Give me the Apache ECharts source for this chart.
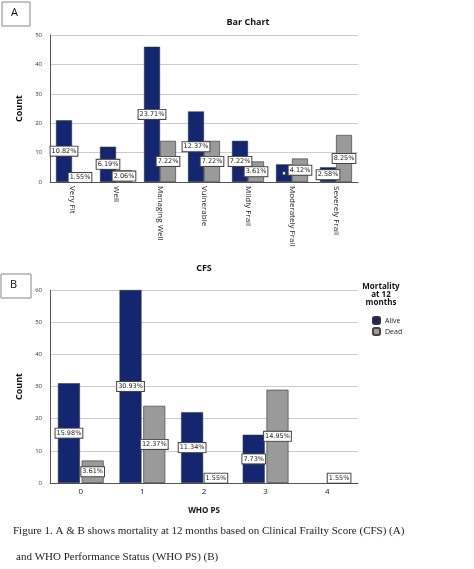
<!DOCTYPE html>
<html><head><meta charset="utf-8">
<script src="https://cdn.jsdelivr.net/npm/echarts@6/dist/echarts.min.js"></script>
<style>html,body{margin:0;padding:0;background:#fff}#c{width:474px;height:569px}</style>
</head><body><div id="c"></div>
<script>
const cfsCats = ['Very Fit','Well','Managing Well','Vulnerable','Mildly Frail','Moderately Frail','Severely Frail'];
const cfsAlive = [21,12,46,24,14,6,5];
const cfsDead = [3,4,14,14,7,8,16];
const cfsAliveLbl = ['10.82%','6.19%','23.71%','12.37%','7.22%',null,'2.58%'];
const cfsDeadLbl = ['1.55%','2.06%','7.22%','7.22%','3.61%','4.12%','8.25%'];
const whoCats = ['0','1','2','3','4'];
const whoAlive = [31,60,22,15,null];
const whoDead = [7,24,3,29,3];
const whoAliveLbl = ['15.98%','30.93%','11.34%','7.73%',null];
const whoDeadLbl = ['3.61%','12.37%','1.55%','14.95%','1.55%'];
const ticksA = [0,10,20,30,40,50];

const NAVY='#13266f', GREY='#9a9a9a';
const lab = arr => ({show:true, position:'inside', fontSize:6.5, color:'#222', backgroundColor:'#fff',
  borderColor:'#444', borderWidth:1, padding:[1,1], fontFamily:'DejaVu Sans',
  formatter:p=>arr[p.dataIndex]||''});
const axisY = (gi,max,interval)=>({gridIndex:gi,min:0,max,interval,name:'Count',nameLocation:'middle',nameGap:22,
  nameTextStyle:{fontSize:9,fontWeight:'bold',color:'#111'},
  axisLine:{show:true,lineStyle:{color:'#555'}},axisTick:{show:false},
  axisLabel:{fontSize:6,color:'#333'},splitLine:{lineStyle:{color:'#ccc'}}});
const chart = echarts.init(document.getElementById('c'));
chart.setOption({
  animation:false,
  textStyle:{fontFamily:'Open Sans'},
  title:{text:'Bar Chart',left:243,top:13,textAlign:'center',textStyle:{fontSize:9,fontWeight:'bold',color:'#111'}},
  grid:[{left:50,width:308,top:35,height:147},{left:50,width:308,top:290,height:193}],
  legend:{show:true,data:['Alive','Dead'],orient:'vertical',left:367,top:311,itemWidth:7,itemHeight:7,itemGap:2,
    textStyle:{fontSize:7,color:'#222'}},
  xAxis:[
    {type:'category',gridIndex:0,data:cfsCats,name:'CFS',nameLocation:'middle',nameGap:82,
     nameTextStyle:{fontSize:9,fontWeight:'bold',color:'#111'},
     axisLine:{lineStyle:{color:'#555'}},axisTick:{show:false},
     axisLabel:{rotate:-90,fontSize:8,color:'#222',margin:4}},
    {type:'category',gridIndex:1,data:whoCats,name:'WHO PS',nameLocation:'middle',nameGap:24,
     nameTextStyle:{fontSize:8,fontWeight:'bold',color:'#111'},
     axisLine:{lineStyle:{color:'#555'}},axisTick:{show:false},
     axisLabel:{fontSize:8,color:'#222',margin:5}}
  ],
  yAxis:[axisY(0,50,10),axisY(1,60,10)],
  series:[
    {name:'Alive',type:'bar',xAxisIndex:0,yAxisIndex:0,data:cfsAlive,barWidth:16,barGap:'0%',
     itemStyle:{color:NAVY,borderColor:'#333',borderWidth:0.5},label:lab(cfsAliveLbl)},
    {name:'Dead',type:'bar',xAxisIndex:0,yAxisIndex:0,data:cfsDead,barWidth:16,barGap:'0%',
     itemStyle:{color:GREY,borderColor:'#444',borderWidth:0.7},label:lab(cfsDeadLbl)},
    {name:'Alive',type:'bar',xAxisIndex:1,yAxisIndex:1,data:whoAlive,barWidth:22,barGap:'8%',
     itemStyle:{color:NAVY,borderColor:'#333',borderWidth:0.5},label:lab(whoAliveLbl)},
    {name:'Dead',type:'bar',xAxisIndex:1,yAxisIndex:1,data:whoDead,barWidth:22,barGap:'8%',
     itemStyle:{color:GREY,borderColor:'#444',borderWidth:0.7},label:lab(whoDeadLbl)}
  ],
  graphic:[
    {type:'rect',shape:{x:2,y:2,width:28,height:24},style:{fill:'#fff',stroke:'#888',lineWidth:1}},
    {type:'text',x:11,y:7,style:{text:'A',fontSize:11,fill:'#111',fontFamily:'Open Sans'}},
    {type:'rect',shape:{x:1,y:274,width:30,height:24},style:{fill:'#fff',stroke:'#888',lineWidth:1}},
    {type:'text',x:10,y:279,style:{text:'B',fontSize:11,fill:'#111',fontFamily:'Open Sans'}},
    {type:'text',x:381,y:283,style:{text:'Mortality\nat 12\nmonths',align:'center',fontSize:8,fontWeight:'bold',
      lineHeight:8,fill:'#111',fontFamily:'Open Sans'}},
    {type:'text',x:13,y:526,style:{text:'Figure 1. A & B shows mortality at 12 months based on Clinical Frailty Score (CFS) (A)',
      fontSize:11,fill:'#222',fontFamily:'Liberation Serif'}},
    {type:'text',x:16,y:552,style:{text:'and WHO Performance Status (WHO PS) (B)',
      fontSize:11,fill:'#222',fontFamily:'Liberation Serif'}}
  ]
});
</script></body></html>
